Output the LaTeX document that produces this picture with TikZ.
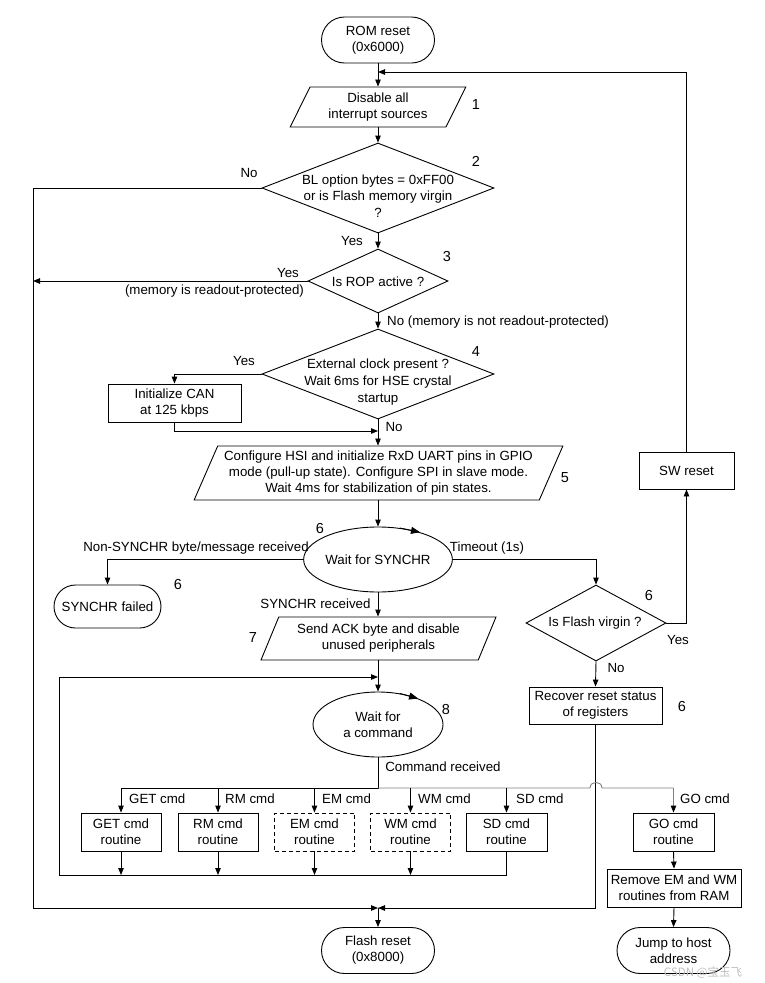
\documentclass[tikz,border=0pt]{standalone}
\usepackage{fontspec}
\setmainfont{Liberation Sans}
\newfontfamily\cjk{Noto Sans CJK SC}
\usetikzlibrary{shapes.geometric,shapes.misc,arrows.meta}
\newcommand\fsz{\fontsize{13.3}{16}\selectfont}
\newcommand\fsd{\fontsize{13.3}{16.8}\selectfont}
\newcommand\fnum{\fontsize{14.5}{16}\selectfont}
\tikzset{
  base/.style={draw, line width=0.9pt, inner sep=0pt, align=center, font=\fsz},
  term/.style={base, rounded rectangle, minimum width=113pt, minimum height=46pt},
  rbox/.style={base, rectangle},
  para/.style={base, trapezium, trapezium left angle=63, trapezium right angle=117, trapezium stretches=true},
  dec/.style={base, diamond},
  oval/.style={base, ellipse, minimum width=130pt, minimum height=65pt},
  arr/.style={-{Triangle[length=7pt,width=5.5pt]}},
  ln/.style={line width=0.9pt},
  lbl/.style={font=\fsz, inner sep=0pt, align=center},
  num/.style={font=\fnum, inner sep=0pt}
}
\begin{document}
\begin{tikzpicture}[x=1pt,y=-1pt]
\useasboundingbox (0,0) rectangle (765,983);

% ---------- shapes ----------
\node[term] (rom) at (378,40) {ROM reset\\(0x6000)};
\node[para, minimum width=176pt, minimum height=40pt] (p1) at (378,107) {Disable all\\interrupt sources};
\node[dec, minimum width=232pt, minimum height=90pt] (d2) at (378,188) {};
\node[lbl, font=\fsd] (d2t) at (378,196) {BL option bytes = 0xFF00\\or is Flash memory virgin\\?};
\node[dec, minimum width=140pt, minimum height=64pt] (d3) at (378,281) {};
\node[lbl] (d3t) at (378,282) {Is ROP active ?};
\node[dec, minimum width=232pt, minimum height=90pt] (d4) at (378,374) {};
\node[lbl, font=\fsd] (d4t) at (378,382) {External clock present ?\\Wait 6ms for HSE crystal\\startup};
\node[rbox, minimum width=133pt, minimum height=38pt] (can) at (174.5,403) {Initialize CAN\\at 125 kbps};
\node[para, minimum width=369pt, minimum height=54pt] (p5) at (378.5,473) {Configure HSI and initialize RxD UART pins in GPIO\\mode (pull-up state). Configure SPI in slave mode.\\Wait 4ms for stabilization of pin states.};
\node[oval] (s) at (378,559.5) {Wait for SYNCHR};
\node[term, minimum width=107pt, minimum height=43pt] (sf) at (107.5,606.5) {SYNCHR failed};
\node[dec, minimum width=140pt, minimum height=76pt] (fv) at (596,623) {};
\node[lbl] (fvt) at (595,623) {Is Flash virgin ?};
\node[rbox, minimum width=95pt, minimum height=37pt] (sw) at (686.5,470.5) {SW reset};
\node[para, minimum width=235pt, minimum height=43pt] (p7) at (378.5,638.5) {Send ACK byte and disable\\unused peripherals};
\node[oval] (c) at (378,724.5) {Wait for\\a command};
\node[rbox, minimum width=133pt, minimum height=37pt] (rec) at (595.5,705.5) {Recover reset status\\of registers};
\node[rbox, minimum width=80pt, minimum height=38pt] (get) at (121,832) {GET cmd\\routine};
\node[rbox, minimum width=80pt, minimum height=38pt] (rm) at (218,832) {RM cmd\\routine};
\node[rbox, dash pattern=on 4pt off 3pt, minimum width=80pt, minimum height=38pt] (em) at (314.5,832) {EM cmd\\routine};
\node[rbox, dash pattern=on 4pt off 3pt, minimum width=80pt, minimum height=38pt] (wm) at (410.5,832) {WM cmd\\routine};
\node[rbox, minimum width=81pt, minimum height=38pt] (sd) at (506.5,832) {SD cmd\\routine};
\node[rbox, minimum width=81pt, minimum height=38pt] (go) at (673.5,832) {GO cmd\\routine};
\node[rbox, minimum width=134pt, minimum height=38pt] (rmv) at (674,888) {Remove EM and WM\\routines from RAM};
\node[term] (jump) at (673.5,950.5) {Jump to host\\address};
\node[term] (flash) at (378,950.5) {Flash reset\\(0x8000)};

% ---------- helper coordinates ----------
\coordinate (fb) at (378,72);
\coordinate (lb) at (33,908);
\coordinate (ly) at (33,281);
\coordinate (cj) at (378,431);
\coordinate (mg) at (378,908);
\coordinate (bc) at (378,788);
\coordinate (b1) at (121,788);
\coordinate (b2) at (218,788);
\coordinate (b3) at (314.5,788);
\coordinate (b4) at (410.5,788);
\coordinate (b5) at (506.5,788);
\coordinate (b6) at (673.5,788);
\coordinate (q1) at (121,875);
\coordinate (q2) at (218,875);
\coordinate (q3) at (314.5,875);
\coordinate (q4) at (410.5,875);
\coordinate (q5) at (506.5,875);
\coordinate (q0) at (59,875);
\coordinate (lp) at (59,677);
\coordinate (lj) at (378,677);

% ---------- connectors ----------
\draw[ln,arr] (rom.south) -- (rom.south |- p1.north);
\draw[ln,arr] (sw.north) |- (fb);
\draw[ln,arr] (d2.north |- p1.south) -- (d2.north);
\draw[ln,arr] (d2.west) -| (lb) -- (mg);
\draw[ln,arr] (d2.south) -- (d3.north);
\draw[ln,arr] (d3.west) -- (ly);
\draw[ln,arr] (d3.south) -- (d4.north);
\draw[ln,arr] (d4.west) -| (can.north);
\draw[ln,arr] (can.south) |- (cj);
\draw[ln,arr] (d4.south) -- (d4.south |- p5.north);
\draw[ln,arr] (s.north |- p5.south) -- (s.north);
\draw[ln,arr] (s.west) -| (sf.north);
\draw[ln,arr] (s.east) -| (fv.north);
\draw[ln,arr] (s.south) -- (s.south |- p7.north);
\draw[ln,arr] (fv.east) -| (sw.south);
\draw[ln,arr] (fv.south) -- (rec.north);
\draw[ln,arr] (rec.south) |- (mg);
\draw[ln,arr] (mg) -- (flash.north);
\draw[ln,arr] (c.north |- p7.south) -- (c.north);
% loop back
\draw[ln,arr] (sd.south) -- (q5) -- (q0) -- (lp) -- (lj);
% command bus
\draw[ln] (c.south) -- (bc) -- (b1);
\draw[ln, draw=gray] (bc) -- (590,788) .. controls (590,780.5) and (602,780.5) .. (602,788) -- (b6);
\draw[ln,arr] (b1) -- (get.north);
\draw[ln,arr] (b2) -- (rm.north);
\draw[ln,arr] (b3) -- (em.north);
\draw[ln,arr] (b4) -- (wm.north);
\draw[ln,arr] (b5) -- (sd.north);
\draw[ln, draw=gray, -{Triangle[length=7pt,width=5.5pt,color=black]}] (b6) -- (go.north);
\draw[ln,arr] (get.south) -- (q1);
\draw[ln,arr] (rm.south) -- (q2);
\draw[ln,arr] (em.south) -- (q3);
\draw[ln,arr] (wm.south) -- (q4);
\draw[ln,arr] (go.south) -- (rmv.north);
\draw[ln,arr] (rmv.south) -- (jump.north);
% self-loop arrows on ovals
\draw[ln,-{Triangle[length=9pt,width=7pt]}] (s.55) -- (s.33);
\draw[ln,-{Triangle[length=9pt,width=7pt]}] (c.55) -- (c.33);

% ---------- labels ----------
\node[num] (n1) at (476,105) {1};
\node[num] (n2) at (476,161) {2};
\node[num] (n3) at (447,257) {3};
\node[num] (n4) at (476,352) {4};
\node[num] (n5) at (565,478) {5};
\node[num] (n6a) at (320,529) {6};
\node[num] (n6b) at (178,585) {6};
\node[num] (n6c) at (649,596) {6};
\node[num] (n6d) at (682,706) {6};
\node[num] (n7) at (253,638) {7};
\node[num] (n8) at (446,709) {8};

\node[lbl] (l1) at (249,173) {No};
\node[lbl] (l2) at (352,241) {Yes};
\node[lbl] (l3) at (288,273) {Yes};
\node[lbl] (l4) at (214.5,291) {(memory is readout-protected)};
\node[lbl, anchor=west] (l5) at (387,322) {No (memory is not readout-protected)};
\node[lbl] (l6) at (244,361) {Yes};
\node[lbl] (l7) at (394,427) {No};
\node[lbl] (l8) at (196,548) {Non-SYNCHR byte/message received};
\node[lbl] (l9) at (487,548) {Timeout (1s)};
\node[lbl] (l10) at (315.5,604) {SYNCHR received};
\node[lbl] (l11) at (678,640) {Yes};
\node[lbl] (l12) at (616,668) {No};
\node[lbl] (l13) at (443,767) {Command received};
\node[lbl, anchor=west] (g1) at (129,799) {GET cmd};
\node[lbl, anchor=west] (g2) at (225,799) {RM cmd};
\node[lbl, anchor=west] (g3) at (322,799) {EM cmd};
\node[lbl, anchor=west] (g4) at (418,799) {WM cmd};
\node[lbl, anchor=west] (g5) at (516,799) {SD cmd};
\node[lbl, anchor=west] (g6) at (680,799) {GO cmd};

\node[font=\cjk\fontsize{11.5}{12}\selectfont, text=gray!50, inner sep=0pt] (wmk) at (703,973) {CSDN @宝玉飞};
\end{tikzpicture}
\end{document}
